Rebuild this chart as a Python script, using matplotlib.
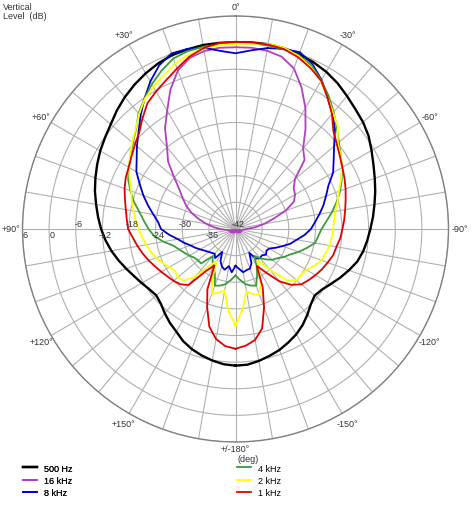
import numpy as np
import matplotlib
matplotlib.use("Agg")
import matplotlib.pyplot as plt

plt.rcParams["font.family"] = ["Liberation Sans", "DejaVu Sans"]

# measurement angles in degrees, + is counter-clockwise (left) from 0 at top
angles = np.arange(-180, 181, 5)

# levels in dB, listed from -180 through 0 to +180
lvl_500 = [-11.2, -11.3, -11.8, -12.4, -13.0, -13.8, -14.6, -15.6, -16.8, -18.0,
           -18.7, -18.2, -17.2, -16.0, -14.8, -13.6, -12.8, -12.2, -11.6, -10.9,
           -10.2, -9.4, -8.6, -7.7, -6.6, -5.4, -4.5, -3.8, -2.9, -1.9,
           -1.1, -0.5, -0.1, 0.2, 0.3, 0.2, 0.1,
           0.1, 0.1, -0.1, -0.3, -0.8, -1.5, -2.3, -3.2, -4.2, -5.3,
           -6.1, -6.8, -7.6, -8.4, -9.2, -10.1, -10.9, -11.7, -12.6, -13.6,
           -14.7, -15.8, -16.8, -17.6, -18.3, -18.7, -18.2, -17.2, -16.2, -15.3,
           -14.1, -13.2, -12.5, -11.9, -11.4, -11.2]

lvl_16k = [-41.5, -41.4, -41.6, -41.3, -41.7, -41.2, -41.6, -41.0, -41.6, -40.9,
           -41.5, -40.8, -41.4, -40.6, -41.2, -40.8, -40.5, -40.3, -39.5, -37.5,
           -35.5, -33.2, -30.0, -27.5, -26.5, -26.0, -24.5, -20.0, -18.3, -14.5,
           -10.5, -6.8, -3.5, -1.8, -1.2, -1.0, -1.05,
           -1.0, -1.3, -2.1, -4.0, -7.3, -11.2, -14.3, -18.0, -20.5, -24.0,
           -26.6, -28.3, -29.8, -31.5, -33.5, -35.3, -37.0, -38.5, -39.8, -40.5,
           -40.8, -41.2, -40.6, -41.4, -40.8, -41.5, -40.9, -41.6, -41.0, -41.6,
           -41.2, -41.7, -41.3, -41.6, -41.4, -41.5]

lvl_8k = [-33.7, -33.0, -32.1, -32.4, -32.5, -33.5, -35.8, -33.7, -33.4, -33.6,
          -33.0, -33.5, -33.2, -32.0, -30.7, -29.2, -28.0, -26.4, -25.0, -24.0,
          -22.8, -21.5, -20.3, -18.9, -16.6, -15.0, -13.0, -10.3, -8.0, -5.9,
          -3.2, -1.0, 0.4, 0.0, -0.6, -1.6, -2.4,
          -1.7, -0.5, 0.0, 0.1, -1.3, -3.6, -6.2, -8.7, -11.1, -13.0,
          -14.8, -16.2, -18.2, -19.9, -21.6, -23.2, -24.5, -25.2, -27.0, -28.8,
          -30.0, -31.2, -32.0, -32.8, -33.5, -34.0, -34.4, -34.7, -34.0, -36.0,
          -34.0, -33.0, -32.5, -33.5, -32.2, -33.7]

lvl_4k = [-31.5, -30.5, -29.4, -28.8, -28.4, -30.5, -32.5, -34.6, -33.4, -32.3,
          -31.2, -30.5, -29.4, -28.4, -26.9, -25.4, -23.8, -23.3, -22.6, -21.4,
          -19.9, -18.4, -16.9, -15.6, -14.3, -13.0, -11.6, -9.7, -7.6, -5.4,
          -3.3, -1.4, -0.3, -0.1, 0.0, 0.0, -0.1,
          -0.2, -0.3, -0.5, -1.1, -2.6, -4.3, -6.2, -8.0, -10.3, -11.8,
          -13.1, -14.3, -15.3, -16.8, -18.3, -20.0, -21.3, -22.4, -23.6, -25.5,
          -27.5, -28.5, -29.3, -30.0, -30.7, -31.0, -31.0, -34.0, -33.0, -32.0,
          -31.0, -28.4, -28.8, -29.4, -30.5, -31.5]

lvl_2k = [-20.2, -23.8, -27.7, -26.8, -26.3, -28.5, -31.5, -33.5, -30.0, -25.6,
          -24.0, -24.0, -23.6, -22.4, -21.4, -21.0, -20.5, -20.2, -20.0, -19.7,
          -19.2, -18.2, -17.2, -15.8, -14.3, -13.0, -11.9, -9.4, -7.8, -5.8,
          -3.6, -1.8, -0.5, 0.3, 0.4, -0.1, -0.3,
          -0.4, -0.6, -1.3, -2.3, -3.8, -5.0, -6.3, -8.2, -10.2, -11.6,
          -13.0, -14.3, -15.7, -17.0, -17.8, -18.7, -19.4, -20.1, -20.9, -21.6,
          -22.2, -23.0, -23.9, -24.8, -25.4, -25.0, -25.6, -28.0, -32.0, -33.5,
          -29.5, -26.4, -27.2, -27.9, -23.5, -20.2]

lvl_1k = [-15.0, -15.6, -16.6, -18.8, -23.2, -27.5, -32.4, -30.0, -26.6, -24.2,
          -22.6, -21.9, -21.2, -20.5, -19.9, -19.2, -18.9, -18.3, -17.9, -17.4,
          -16.9, -16.3, -15.6, -14.9, -14.2, -13.3, -12.2, -10.8, -8.2, -5.8,
          -3.4, -2.0, -0.8, 0.0, 0.2, 0.2, 0.2,
          0.1, -0.6, -1.8, -3.5, -5.0, -6.2, -7.4, -9.4, -11.3, -12.4,
          -13.4, -14.2, -14.7, -15.4, -16.2, -16.9, -17.4, -17.8, -18.8, -19.6,
          -20.4, -21.2, -22.0, -22.7, -23.3, -23.8, -24.4, -25.5, -30.5, -32.5,
          -27.0, -23.3, -19.2, -16.8, -15.5, -15.0]

series = [
    ("500 Hz", lvl_500, "#000000", 1.7),
    ("16 kHz", lvl_16k, "#b040c0", 1.3),
    ("8 kHz", lvl_8k, "#0000cc", 1.3),
    ("4 kHz", lvl_4k, "#3c9c3c", 1.3),
    ("2 kHz", lvl_2k, "#ffff00", 1.3),
    ("1 kHz", lvl_1k, "#e00000", 1.3),
]

ring_levels = [-42, -36, -30, -24, -18, -12, -6, 0, 6]
ring_labels = ["-42", "-36", "-30", "-24", "-18", "-12", "-6", "0", "6"]
ring_above = [True, False, True, False, True, False, True, False, False]

label_angles = [0, 30, 60, 90, 120, 150, 180, -150, -120, -90, -60, -30]
label_texts = ["0°", "+30°", "+60°", "+90°", "+120°", "+150°", "+/-180°",
               "-150°", "-120°", "-90°", "-60°", "-30°"]

FS = 6.5

fig = plt.figure(figsize=(4.74, 5.10), dpi=100)
ax = fig.add_axes([0.0475, 0.1314, 0.8987, 0.8353], projection="polar")
ax.set_theta_zero_location("N")
ax.set_theta_direction(1)
ax.set_ylim(-42, 6)
ax.set_yticks(ring_levels[1:])
ax.set_yticklabels([])
ax.set_xticks(np.deg2rad(np.arange(0, 360, 10)))
ax.set_xticklabels([])
ax.grid(color="#b0b0b0", lw=0.8)
ax.spines["polar"].set_color("#808080")
ax.spines["polar"].set_linewidth(1.0)

lines = []
for name, lvl, col, lw in series:
    ln, = ax.plot(np.deg2rad(angles), lvl, color=col, lw=lw, label=name)
    lines.append(ln)

# ring level labels along the +90 line
for lev, txt, up in zip(ring_levels, ring_labels, ring_above):
    ax.annotate(txt, xy=(np.pi / 2, lev), xytext=(2, 1 if up else -1),
                textcoords="offset points", ha="center",
                va="bottom" if up else "top", fontsize=FS, color="#333333",
                annotation_clip=False)

for a, txt in zip(label_angles, label_texts):
    if a == 90:
        r, ha = 6.5, "right"
    elif a == -90:
        r, ha = 6.8, "left"
    elif a == 180:
        r, ha = 7.4, "center"
    elif a == 0:
        r, ha = 8.1, "center"
    else:
        r, ha = 8.5, "center"
    ax.text(np.deg2rad(a), r, txt, ha=ha, va="center", fontsize=FS,
            color="#333333", clip_on=False)

fig.text(0.006, 0.994, "Vertical\nLevel  (dB)", ha="left", va="top",
         fontsize=FS, color="#333333", linespacing=1.0)
fig.text(0.524, 0.099, "(deg)", ha="center", va="center", fontsize=FS,
         color="#333333")

leg1 = fig.legend(handles=lines[:3], loc="upper left",
                  bbox_to_anchor=(0.0485, 0.089), frameon=False,
                  fontsize=FS, handlelength=1.6, handletextpad=0.7,
                  labelspacing=0.35, borderpad=0, borderaxespad=0)
fig.legend(handles=lines[3:], loc="upper left",
           bbox_to_anchor=(0.5, 0.089), frameon=False,
           fontsize=FS, handlelength=1.6, handletextpad=0.7,
           labelspacing=0.35, borderpad=0, borderaxespad=0)
fig.add_artist(leg1)

fig.savefig("out.png", dpi=100)
